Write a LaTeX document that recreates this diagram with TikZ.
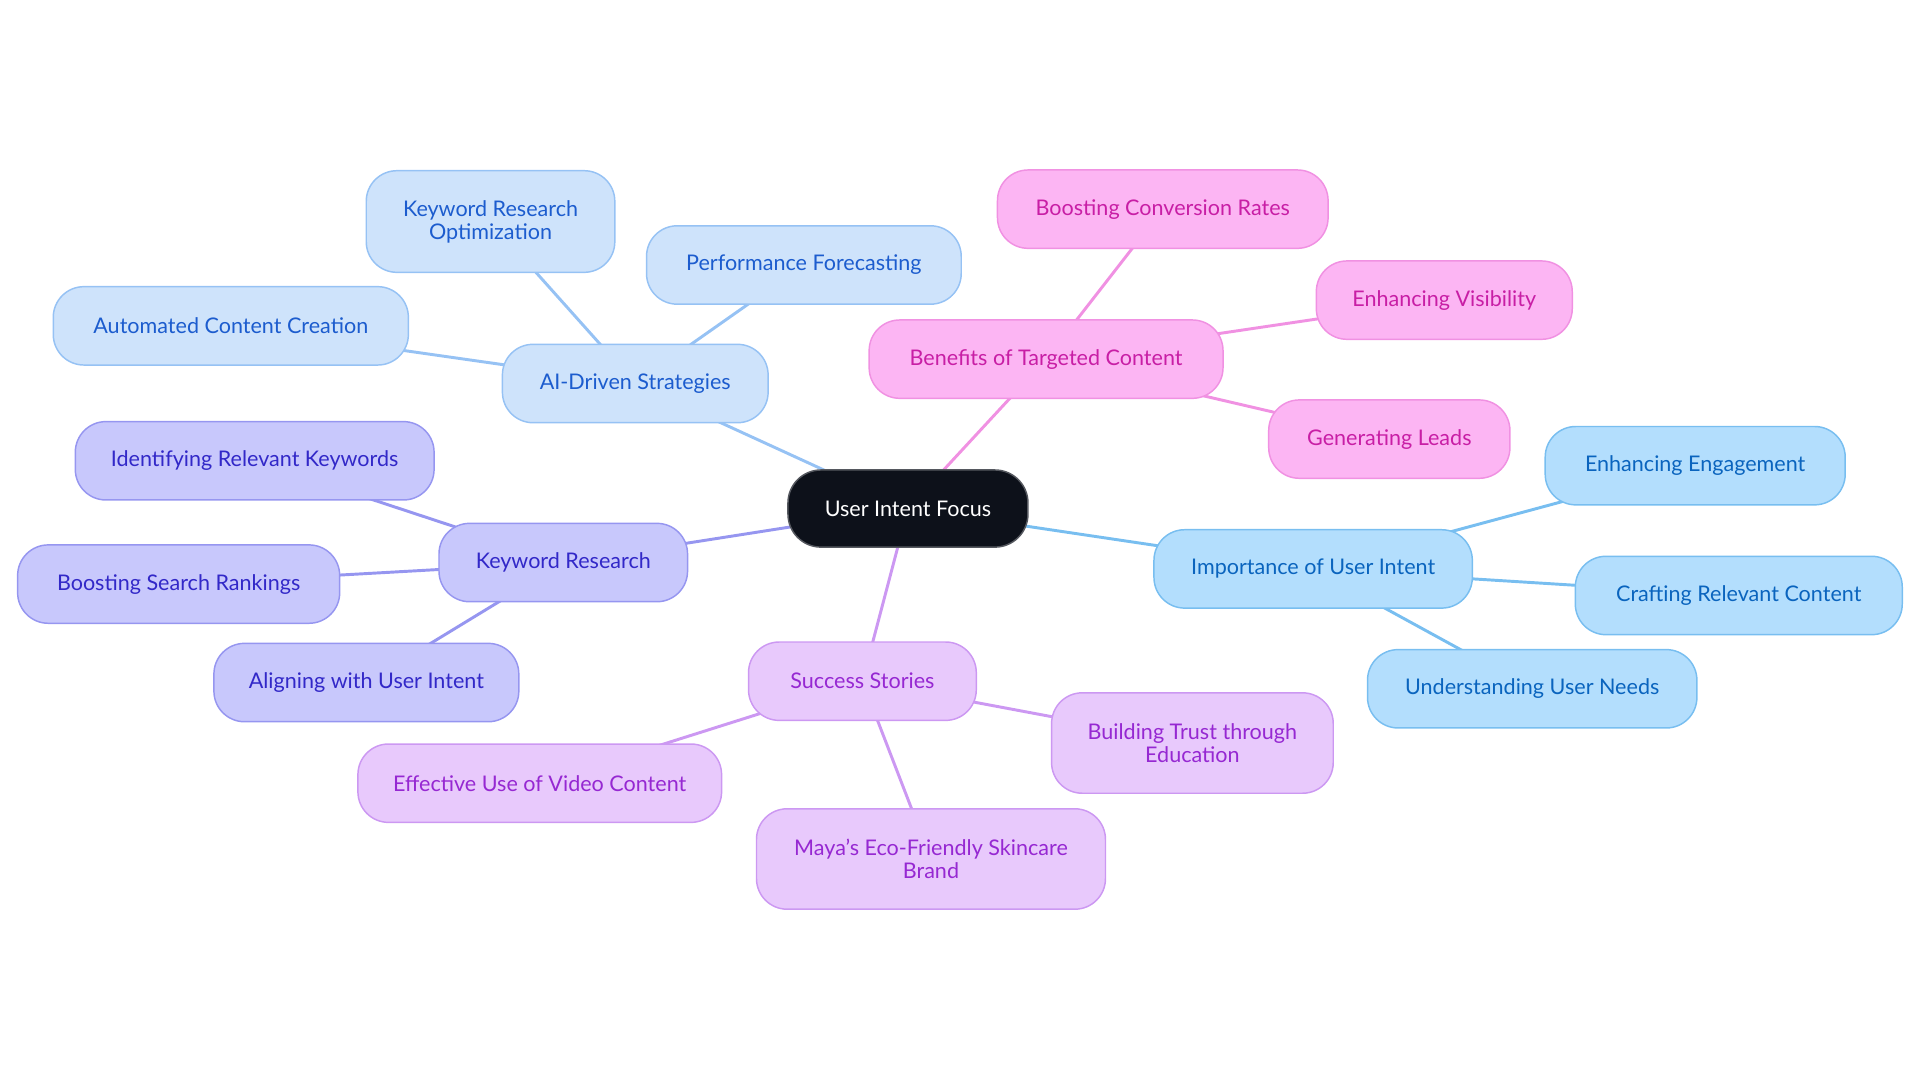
\documentclass[tikz,border=0pt]{standalone}
\usepackage{fontspec}
\setmainfont{Lato}
\usetikzlibrary{backgrounds}
\definecolor{aiF}{RGB}{206,227,251}
\definecolor{aiD}{RGB}{150,194,244}
\definecolor{aiT}{RGB}{28,92,206}
\definecolor{pkF}{RGB}{252,181,243}
\definecolor{pkD}{RGB}{240,145,226}
\definecolor{pkT}{RGB}{200,30,165}
\definecolor{blF}{RGB}{179,222,253}
\definecolor{blD}{RGB}{120,190,240}
\definecolor{blT}{RGB}{10,100,190}
\definecolor{kwF}{RGB}{200,200,252}
\definecolor{kwD}{RGB}{150,150,240}
\definecolor{kwT}{RGB}{50,40,200}
\definecolor{ssF}{RGB}{232,201,252}
\definecolor{ssD}{RGB}{204,152,242}
\definecolor{ssT}{RGB}{150,40,210}
\definecolor{rtF}{RGB}{13,17,26}
\definecolor{rtD}{RGB}{85,88,95}
\tikzset{
  mm/.style={draw, rounded corners=25pt, line width=1.2pt, minimum height=64pt,
    inner sep=0pt, align=center, font=\fontsize{17.6}{18.7}\selectfont},
  rootn/.style={mm, fill=rtF, draw=rtD, text=white, rounded corners=27pt},
  ain/.style={mm, fill=aiF, draw=aiD, text=aiT},
  pkn/.style={mm, fill=pkF, draw=pkD, text=pkT},
  bln/.style={mm, fill=blF, draw=blD, text=blT},
  kwn/.style={mm, fill=kwF, draw=kwD, text=kwT},
  ssn/.style={mm, fill=ssF, draw=ssD, text=ssT},
  ed/.style={line width=2.4pt},
}
\begin{document}
\begin{tikzpicture}[x=1pt,y=-1pt]
\useasboundingbox (0,0) rectangle (1568,884.5);
\node[rootn, minimum width=196pt, minimum height=63pt] (root) at (741.5,415.3) {User Intent Focus};
% AI-driven
\node[ain, minimum width=217pt] (ai) at (518.8,313.2) {AI-Driven Strategies};
\node[ain, minimum width=203pt, minimum height=83pt] (kro) at (400.6,180.9) {Keyword Research\\Optimization};
\node[ain, minimum width=257pt] (pf) at (656.5,216.4) {Performance Forecasting};
\node[ain, minimum width=290pt] (acc) at (188.5,266.1) {Automated Content Creation};
% Benefits
\node[pkn, minimum width=289pt] (btc) at (854.3,293.3) {Benefits of Targeted Content};
\node[pkn, minimum width=270pt] (bcr) at (949.6,170.8) {Boosting Conversion Rates};
\node[pkn, minimum width=209pt] (ev) at (1179.5,245.1) {Enhancing Visibility};
\node[pkn, minimum width=197pt] (gl) at (1134.6,358.6) {Generating Leads};
% Importance
\node[bln, minimum width=260pt] (iui) at (1072.4,464.6) {Importance of User Intent};
\node[bln, minimum width=245pt] (ee) at (1384.4,380.3) {Enhancing Engagement};
\node[bln, minimum width=267pt] (crc) at (1420,486.3) {Crafting Relevant Content};
\node[bln, minimum width=269pt] (uun) at (1251.3,562.5) {Understanding User Needs};
% Keyword research
\node[kwn, minimum width=203pt] (kr) at (460,459.4) {Keyword Research};
\node[kwn, minimum width=293pt] (irk) at (208,376.3) {Identifying Relevant Keywords};
\node[kwn, minimum width=263pt] (bsr) at (145.9,477) {Boosting Search Rankings};
\node[kwn, minimum width=249pt] (awu) at (299.2,557.4) {Aligning with User Intent};
% Success
\node[ssn, minimum width=186pt] (ss) at (704.3,556.3) {Success Stories};
\node[ssn, minimum width=297pt] (euv) at (440.8,639.6) {Effective Use of Video Content};
\node[ssn, minimum width=285pt, minimum height=82pt] (maya) at (760.3,701.5) {Maya’s Eco-Friendly Skincare\\Brand};
\node[ssn, minimum width=230pt, minimum height=82pt] (btte) at (973.8,606.8) {Building Trust through\\Education};
\begin{scope}[on background layer]
\draw[ed, draw=aiD] (root.center) -- (ai.center);
\draw[ed, draw=aiD] (ai.center) -- (kro.center);
\draw[ed, draw=aiD] (ai.center) -- (pf.center);
\draw[ed, draw=aiD] (ai.center) -- (acc.center);
\draw[ed, draw=pkD] (root.center) -- (btc.center);
\draw[ed, draw=pkD] (btc.center) -- (bcr.center);
\draw[ed, draw=pkD] (btc.center) -- (ev.center);
\draw[ed, draw=pkD] (btc.center) -- (gl.center);
\draw[ed, draw=blD] (root.center) -- (iui.center);
\draw[ed, draw=blD] (iui.center) -- (ee.center);
\draw[ed, draw=blD] (iui.center) -- (crc.center);
\draw[ed, draw=blD] (iui.center) -- (uun.center);
\draw[ed, draw=kwD] (root.center) -- (kr.center);
\draw[ed, draw=kwD] (kr.center) -- (irk.center);
\draw[ed, draw=kwD] (kr.center) -- (bsr.center);
\draw[ed, draw=kwD] (kr.center) -- (awu.center);
\draw[ed, draw=ssD] (root.center) -- (ss.center);
\draw[ed, draw=ssD] (ss.center) -- (euv.center);
\draw[ed, draw=ssD] (ss.center) -- (maya.center);
\draw[ed, draw=ssD] (ss.center) -- (btte.center);
\end{scope}
\end{tikzpicture}
\end{document}
